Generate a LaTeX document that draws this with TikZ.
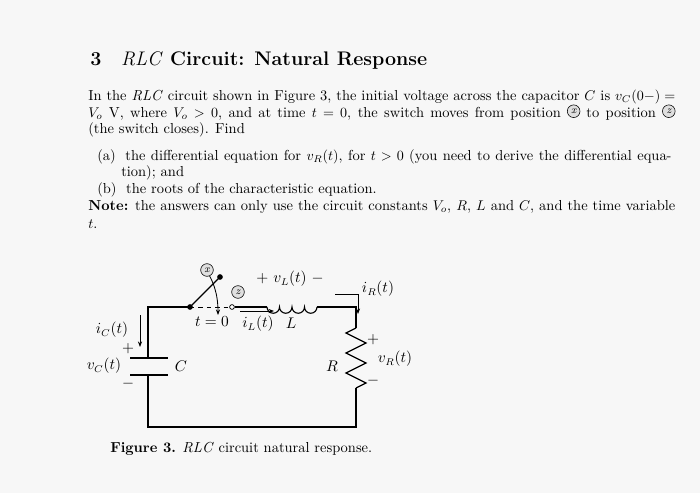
\documentclass[tikz,border=0pt]{standalone}
\usetikzlibrary{arrows.meta}
\begin{document}
\begin{tikzpicture}[x=0.025cm,y=-0.025cm,
  txt/.style={anchor=base west,inner sep=0,font=\fontsize{10.3}{12}\selectfont},
  lbl/.style={inner sep=0,font=\fontsize{10.5}{12}\selectfont},
  circ/.style={circle,draw,fill=gray!25,inner sep=1pt,minimum size=9pt,font=\fontsize{7.5}{8}\selectfont\itshape},
  wire/.style={line width=0.8pt},
  arr/.style={line width=0.6pt,-{Stealth[length=4pt]}}]
\fill[gray!6] (0,0) rectangle (700,493);
\useasboundingbox (0,0) rectangle (700,493);
% text
\node[txt,font=\fontsize{14}{16}\selectfont\bfseries] (h) at (90,66) {3\quad \textit{\mdseries RLC} Circuit: Natural Response};
\node[txt] (l1) at (88,100) {\makebox[14.675cm][s]{In the \textit{RLC} circuit shown in Figure 3, the initial voltage across the capacitor $C$ is $v_C(0-)=$}};
\node[txt] (l2) at (88,117) {\makebox[14.675cm][s]{$V_o$ V, where $V_o>0$, and at time $t=0$, the switch moves from position \tikz[baseline=-2.5pt]\node[circ]{x}; to position \tikz[baseline=-2.5pt]\node[circ]{z};}};
\node[txt] (l3) at (88,133) {(the switch closes). Find};
\node[txt] (la) at (97,160) {(a)\ \ \makebox[13.65cm][s]{the differential equation for $v_R(t)$, for $t>0$ (you need to derive the differential equa-}};
\node[txt] (la2) at (121,176) {tion); and};
\node[txt] (lb) at (97,193) {(b)\ \ the roots of the characteristic equation.};
\node[txt] (ln) at (88,210) {\makebox[14.675cm][s]{\textbf{Note:} the answers can only use the circuit constants $V_o$, $R$, $L$ and $C$, and the time variable}};
\node[txt] (lt) at (88,228) {$t$.};
\node[txt] (cap) at (110,452) {\textbf{Figure 3.} \textit{RLC} circuit natural response.};
% circuit
\coordinate (piv) at (190,307);
\coordinate (sw) at (220,277);
\coordinate (tl) at (148,307);
\coordinate (c1) at (148,358);
\coordinate (c2) at (148,375);
\coordinate (bl) at (148,427);
\coordinate (br) at (356,427);
\coordinate (tr) at (356,307);
\coordinate (r1) at (356,328);
\coordinate (r2) at (356,388);
\coordinate (l1s) at (267,307);
\coordinate (l1e) at (317,307);
\node[circle,draw,fill=white,inner sep=1.2pt,line width=0.5pt] (zt) at (232,307) {};
\draw[wire] (piv) -- (tl) -- (c1);
\draw[wire] (c2) -- (bl) -- (br) -- (r2);
\draw[wire] (r1) -- (tr) -- (l1e);
\draw[wire] (zt) -- (l1s);
\draw[wire] (l1s) \foreach \i in {0,1,2,3} {arc[start angle=180,end angle=0,radius=6.25]};
\draw[wire] (130,358) -- (168,358) (130,375) -- (168,375);
\draw[wire] (r1) -- (346,333) -- (366,343) -- (346,353) -- (366,363) -- (346,373) -- (366,383) -- (r2);
\draw[wire] (piv) -- (sw);
\fill (piv) circle (2pt) (sw) circle (2pt);
\draw[dashed,line width=0.6pt] (piv) -- (zt);
\draw[arr] (203,266) .. controls (214,280) and (218,295) .. (218,315);
\node[circ] (cx) at (207,270) {x};
\node[circ] (cz) at (238,292) {z};
\node[lbl] (vl) at (290,279) {$+\ v_L(t)\ -$};
\node[lbl] (ir) at (378,289) {$i_R(t)$};
\draw[arr] (335,294) -- (358,294) -- (358,314);
\node[lbl] (t0) at (212,322) {$t=0$};
\node[lbl] (il) at (258,324) {$i_L(t)$};
\draw[arr] (240,311) -- (274,311);
\node[lbl] (L) at (291,323) {$L$};
\node[lbl] (ic) at (112,330) {$i_C(t)$};
\draw[arr] (140,315) -- (140,347);
\node[lbl] (cp) at (128,349) {$+$};
\node[lbl] (vc) at (104,366) {$v_C(t)$};
\node[lbl] (C) at (181,366) {$C$};
\node[lbl] (cm) at (128,384) {$-$};
\node[lbl] (R) at (332,366) {$R$};
\node[lbl] (rp) at (373,340) {$+$};
\node[lbl] (vr) at (395,359) {$v_R(t)$};
\node[lbl] (rm) at (373,381) {$-$};
\end{tikzpicture}
\end{document}
